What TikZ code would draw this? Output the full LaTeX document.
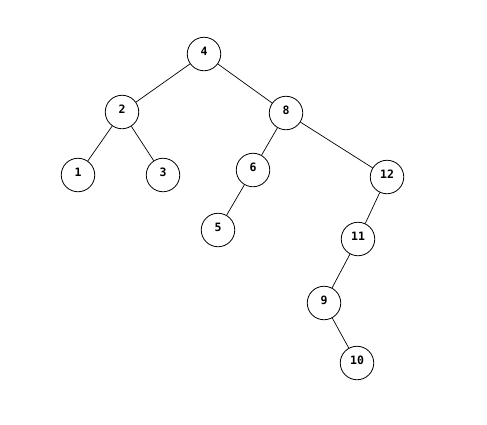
\documentclass[tikz,border=0pt]{standalone}
\usepackage{fontspec}
\newfontfamily\keyfont{DejaVu Sans Mono}
\usepackage{tikz}
\usetikzlibrary{positioning}

\begin{document}
\begin{tikzpicture}[
  x=1pt, y=-1pt,
  every node/.style={font=\keyfont\bfseries\fontsize{11.5}{13}\selectfont},
  vertex/.style={draw, circle, line width=0.8pt, minimum size=33.5pt, inner sep=0pt, text depth=6pt},
  edge/.style={line width=0.7pt}
]
\useasboundingbox (0,0) rectangle (487,424);

% Level 1: root
\node[vertex] (K4) at (204,54) {4};

% Level 2
\node[vertex] (K2) at (122,112) {2};
\node[vertex] (K8) at (286,113) {8};

% Level 3
\node[vertex] (K1) at (78,175) {1};
\node[vertex] (K3) at (163,175) {3};
\node[vertex] (K6) at (253,170) {6};
\node[vertex] (K12) at (387,177) {12};

% Level 4
\node[vertex] (K5) at (218,230) {5};
\node[vertex] (K11) at (358,239) {11};

% Level 5 and 6
\node[vertex] (K9) at (324,303) {9};
\node[vertex] (K10) at (357,363) {10};

% Edges
\draw[edge] (K4) -- (K2);
\draw[edge] (K4) -- (K8);
\draw[edge] (K2) -- (K1);
\draw[edge] (K2) -- (K3);
\draw[edge] (K8) -- (K6);
\draw[edge] (K8) -- (K12);
\draw[edge] (K6) -- (K5);
\draw[edge] (K12) -- (K11);
\draw[edge] (K11) -- (K9);
\draw[edge] (K9) -- (K10);

\end{tikzpicture}
\end{document}
